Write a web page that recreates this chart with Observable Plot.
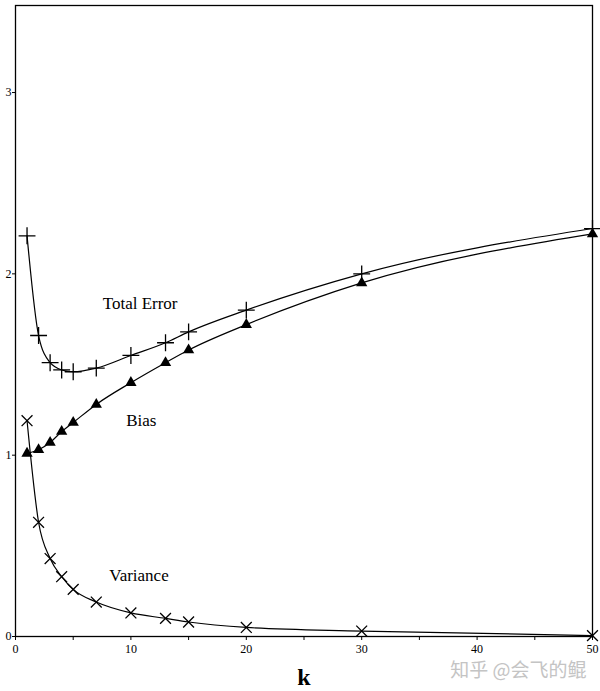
<!DOCTYPE html>
<html>
<head>
<meta charset="utf-8">
<script src="https://cdn.jsdelivr.net/npm/d3@7"></script>
<script src="https://cdn.jsdelivr.net/npm/@observablehq/plot@0.6"></script>
<style>
  html, body { margin: 0; padding: 0; background: #fff; }
</style>
</head>
<body>
<div id="chart"></div>
<script>
const kValues = [1, 2, 3, 4, 5, 7, 10, 13, 15, 20, 30, 50];
const totalError = [2.21, 1.66, 1.51, 1.47, 1.46, 1.48, 1.55, 1.62, 1.68, 1.80, 2.00, 2.25];
const bias = [1.01, 1.03, 1.07, 1.13, 1.18, 1.28, 1.40, 1.51, 1.58, 1.72, 1.95, 2.22];
const variance = [1.19, 0.63, 0.43, 0.33, 0.26, 0.19, 0.13, 0.10, 0.08, 0.05, 0.03, 0.005];
const yTicks = [0, 1, 2, 3];
const xTicks = [0, 5, 10, 15, 20, 25, 30, 35, 40, 45, 50];
const seriesLabels = [
  {text: "Total Error", k: 10.8, v: 1.837},
  {text: "Bias", k: 10.9, v: 1.19},
  {text: "Variance", k: 10.7, v: 0.336}
];

const rows = (vals) => kValues.map((k, i) => ({k, v: vals[i]}));
const te = rows(totalError), bi = rows(bias), va = rows(variance);
const serif = "'Liberation Serif', 'DejaVu Serif', serif";

const chart = Plot.plot({
  width: 600,
  height: 691,
  marginLeft: 15,
  marginRight: 8,
  marginTop: 5,
  marginBottom: 55,
  style: {fontFamily: serif, background: "#fff", color: "#000"},
  x: {domain: [0, 50]},
  y: {domain: [0, 3.48]},
  marks: [
    Plot.frame({stroke: "#000", strokeWidth: 1.3}),
    Plot.axisY({ticks: yTicks, tickFormat: d3.format("d"), tickSize: 3, tickPadding: 1, fontSize: 12, label: null, fontFamily: serif}),
    Plot.axisX({ticks: xTicks, tickFormat: d => d % 10 === 0 ? d : "", tickSize: 4, tickPadding: 4, fontSize: 12, label: null, fontFamily: serif}),
    Plot.axisX({ticks: [], tickSize: 0, label: "k", labelAnchor: "center", labelArrow: "none", labelOffset: 48, fontSize: 24, fontWeight: "bold", fontFamily: serif}),
    Plot.line(te, {x: "k", y: "v", curve: "monotone-x", stroke: "#000", strokeWidth: 1.2}),
    Plot.line(bi, {x: "k", y: "v", curve: "monotone-x", stroke: "#000", strokeWidth: 1.2}),
    Plot.line(va, {x: "k", y: "v", curve: "monotone-x", stroke: "#000", strokeWidth: 1.2}),
    Plot.dot(te, {x: "k", y: "v", symbol: "plus", r: 5.5, stroke: "#000", strokeWidth: 1.3}),
    Plot.dot(bi, {x: "k", y: "v", symbol: "triangle", r: 4.2, fill: "#000", stroke: "none"}),
    Plot.dot(va, {x: "k", y: "v", symbol: "times", r: 5, stroke: "#000", strokeWidth: 1.3}),
    Plot.text(seriesLabels, {x: "k", y: "v", text: "text", fontSize: 17, fill: "#000", fontFamily: serif}),
    Plot.text(["知乎 @会飞的鲲"], {frameAnchor: "bottom-right", dx: -6, dy: 40, textAnchor: "end", fontSize: 19, fill: "#c4c4c4", fontFamily: "'Noto Sans CJK SC', sans-serif"})
  ]
});
document.getElementById("chart").appendChild(chart);
</script>
</body>
</html>
